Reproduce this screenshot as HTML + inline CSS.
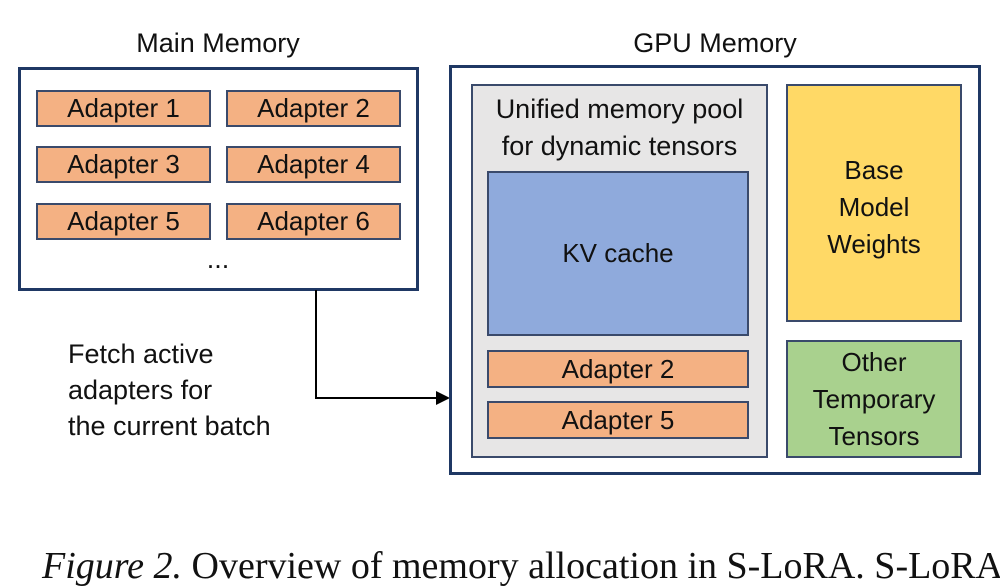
<!DOCTYPE html>
<html><head><style>
body{margin:0;width:1000px;height:562px;background:#fff;position:relative;overflow:hidden;font-family:"Liberation Sans",sans-serif;color:#111}
.b{position:absolute;box-sizing:border-box}
.t{position:absolute;font-size:27px;text-align:center;white-space:nowrap}
.ad{position:absolute;box-sizing:border-box;background:#f4b183;border:2px solid #3a4a6b;font-size:26px;display:flex;align-items:center;justify-content:center}
</style></head><body>
<div class="t" style="left:18px;width:400px;top:28px">Main Memory</div>
<div class="t" style="left:450px;width:530px;top:28px">GPU Memory</div>
<div class="b" style="left:18px;top:67px;width:401px;height:224px;border:3px solid #1f3864"></div>
<div class="ad" style="left:36px;top:90px;width:175px;height:37px">Adapter 1</div>
<div class="ad" style="left:226px;top:90px;width:175px;height:37px">Adapter 2</div>
<div class="ad" style="left:36px;top:146px;width:175px;height:37px">Adapter 3</div>
<div class="ad" style="left:226px;top:146px;width:175px;height:37px">Adapter 4</div>
<div class="ad" style="left:36px;top:203px;width:175px;height:37px">Adapter 5</div>
<div class="ad" style="left:226px;top:203px;width:175px;height:37px">Adapter 6</div>
<div class="t" style="left:18px;width:400px;top:244px">...</div>
<div class="t" style="left:68px;top:336px;text-align:left;line-height:36px">Fetch active<br>adapters for<br>the current batch</div>
<svg class="b" style="left:0;top:0" width="1000" height="562">
<polyline points="316,290 316,398 438,398" fill="none" stroke="#000" stroke-width="2"/>
<polygon points="450,398 436,391 436,405" fill="#000"/>
</svg>
<div class="b" style="left:449px;top:65px;width:532px;height:410px;border:3px solid #1f3864"></div>
<div class="b" style="left:471px;top:84px;width:297px;height:374px;background:#e7e6e6;border:2px solid #3a4a6b"></div>
<div class="t" style="left:471px;width:297px;top:91px;line-height:37px">Unified memory pool<br>for dynamic tensors</div>
<div class="ad" style="left:487px;top:171px;width:262px;height:165px;background:#8faadc">KV cache</div>
<div class="ad" style="left:487px;top:350px;width:262px;height:38px">Adapter 2</div>
<div class="ad" style="left:487px;top:401px;width:262px;height:38px">Adapter 5</div>
<div class="ad" style="left:786px;top:84px;width:176px;height:238px;background:#ffd966;line-height:37px;text-align:center;padding-top:8px">Base<br>Model<br>Weights</div>
<div class="ad" style="left:786px;top:340px;width:176px;height:118px;background:#a9d18e;line-height:37px;text-align:center">Other<br>Temporary<br>Tensors</div>
<div class="t" style="left:42px;top:544px;font-family:'Liberation Serif',serif;font-size:38px;text-align:left"><i>Figure 2.</i> Overview of memory allocation in S-LoRA. S-LoRA</div>
</body></html>
